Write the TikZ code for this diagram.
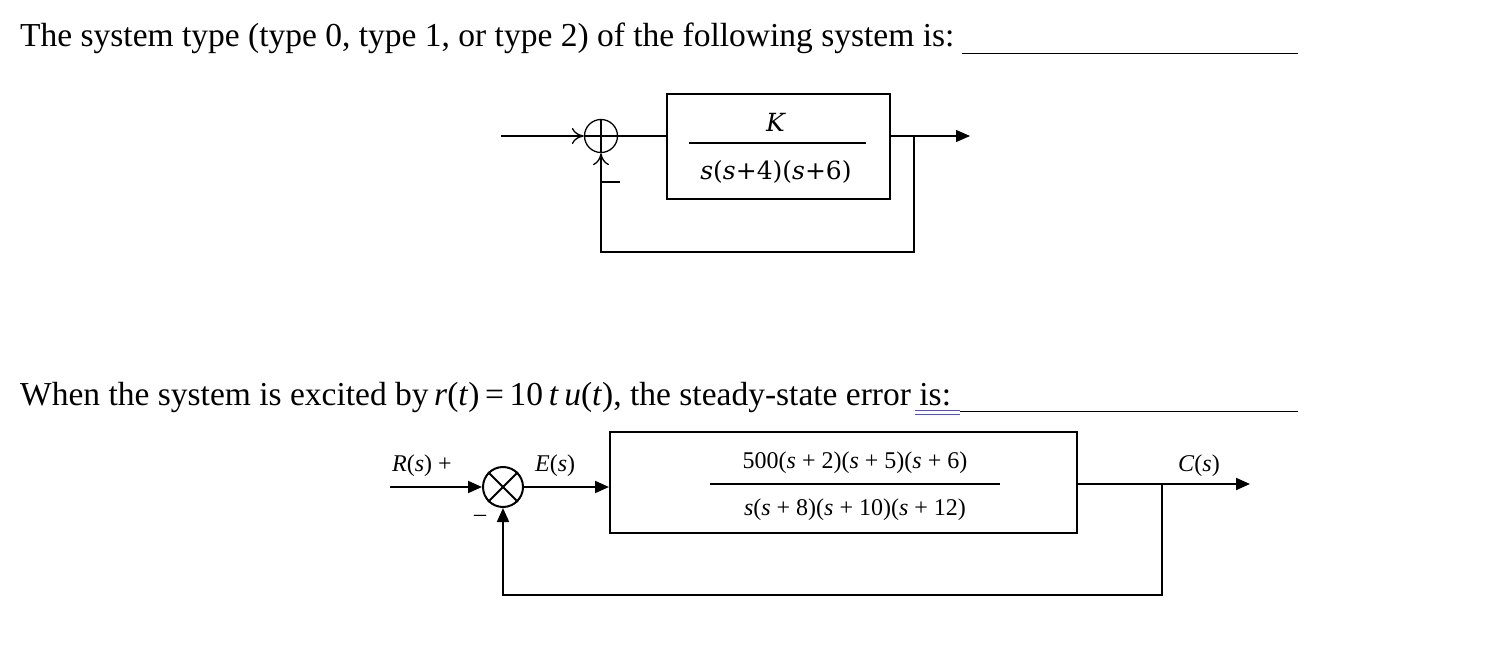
\documentclass[tikz,border=0pt]{standalone}
\usepackage{fontspec}
\setmainfont{Liberation Serif}
\newfontfamily\cambria{DejaVu Serif}
\usetikzlibrary{arrows.meta}
\begin{document}
\begin{tikzpicture}[x=1pt,y=-1pt,
  ln/.style={line width=1.3pt},
  openarr/.style={ln,-{To[length=12pt,width=16pt]}},
  fillarr/.style={ln,-{Triangle[length=14pt,width=12pt]}},
  txt/.style={font=\fontsize{33.5}{36}\selectfont,anchor=base west,inner sep=0},
  lbl/.style={font=\fontsize{24}{26}\selectfont,inner sep=0}]
\useasboundingbox (0,0) rectangle (1488,668);
% texts
\node[txt] (t1) at (20,47) {The system type (type 0, type 1, or type 2) of the following system is:};
\coordinate (u1a) at (962,53); \coordinate (u1b) at (1298,53);
\draw[line width=0.8pt] (u1a) -- (u1b);
\node[txt] (t2) at (20,405) {When the system is excited by\,\textit{r}(\textit{t})\,=\,10\,\textit{t}\,\textit{u}(\textit{t}), the steady-state error is:};
\coordinate (u2a) at (960,411); \coordinate (u2b) at (1298,411);
\draw[line width=0.8pt] (u2a) -- (u2b);
\coordinate (b1) at (915,410); \coordinate (b2) at (960,410);
\coordinate (b3) at (915,414); \coordinate (b4) at (960,414);
\draw[blue!70,line width=1pt] (b1) -- (b2) (b3) -- (b4);
% top diagram
\coordinate (in1) at (501,136);
\node[circle,draw,ln,minimum size=33pt,inner sep=0] (s1) at (601,136) {};
\draw[ln] (s1.north) -- (s1.south) (s1.west) -- (s1.east);
\node[draw,ln,minimum width=223pt,minimum height=105pt] (g1) at (778.5,146.5) {};
\node[lbl,font=\cambria\fontsize{25}{27}\selectfont] (k) at (776,122) {\textit{K}};
\node[lbl,font=\cambria\fontsize{25}{27}\selectfont] (d1) at (776,172) {\textit{s}(\textit{s}+4)(\textit{s}+6)};
\coordinate (f1a) at (689,143); \coordinate (f1b) at (866,143);
\draw[ln] (f1a) -- (f1b);
\coordinate (o1) at (970,136); \coordinate (tk1) at (914,136);
\coordinate (c1) at (914,252); \coordinate (c2) at (601,252);
\coordinate (m1a) at (601,182); \coordinate (m1b) at (620,182);
\draw[openarr] (in1) -- (s1.west);
\draw[ln] (s1.east) -- (g1.west |- s1.east);
\draw[fillarr] (g1.east |- o1) -- (o1);
\draw[openarr] (tk1) -- (c1) -- (c2) -- (s1.south);
\draw[ln] (m1a) -- (m1b);
% bottom diagram
\coordinate (in2) at (390,487);
\node[circle,draw,line width=2pt,minimum size=40pt,inner sep=0] (s2) at (503,487) {};
\draw[line width=2pt] (s2.north east) -- (s2.south west) (s2.north west) -- (s2.south east);
\node[lbl,anchor=base west] (rl) at (392,471) {\textit{R}(\textit{s}) +};
\node[lbl,anchor=base west] (el) at (535,471) {\textit{E}(\textit{s})};
\node[lbl,anchor=base west] (cl) at (1178,471) {\textit{C}(\textit{s})};
\node[lbl] (ml) at (480,518) {\textendash};
\node[draw,line width=2pt,minimum width=467pt,minimum height=101pt] (g2) at (843.5,482.5) {};
\node[lbl] (n2) at (855,463) {500(\textit{s} + 2)(\textit{s} + 5)(\textit{s} + 6)};
\node[lbl] (d2) at (855,510) {\textit{s}(\textit{s} + 8)(\textit{s} + 10)(\textit{s} + 12)};
\coordinate (f2a) at (710,484); \coordinate (f2b) at (1000,484);
\draw[line width=1.6pt] (f2a) -- (f2b);
\coordinate (o2) at (1250,484); \coordinate (tk2) at (1162,484);
\coordinate (c3) at (1162,595); \coordinate (c4) at (503,595);
\draw[fillarr,line width=2pt] (in2) -- (s2.west);
\draw[fillarr,line width=2pt] (s2.east) -- (g2.west |- s2.east);
\draw[fillarr,line width=2pt] (g2.east |- o2) -- (o2);
\draw[fillarr,line width=2pt] (tk2) -- (c3) -- (c4) -- (s2.south);
\end{tikzpicture}
\end{document}
